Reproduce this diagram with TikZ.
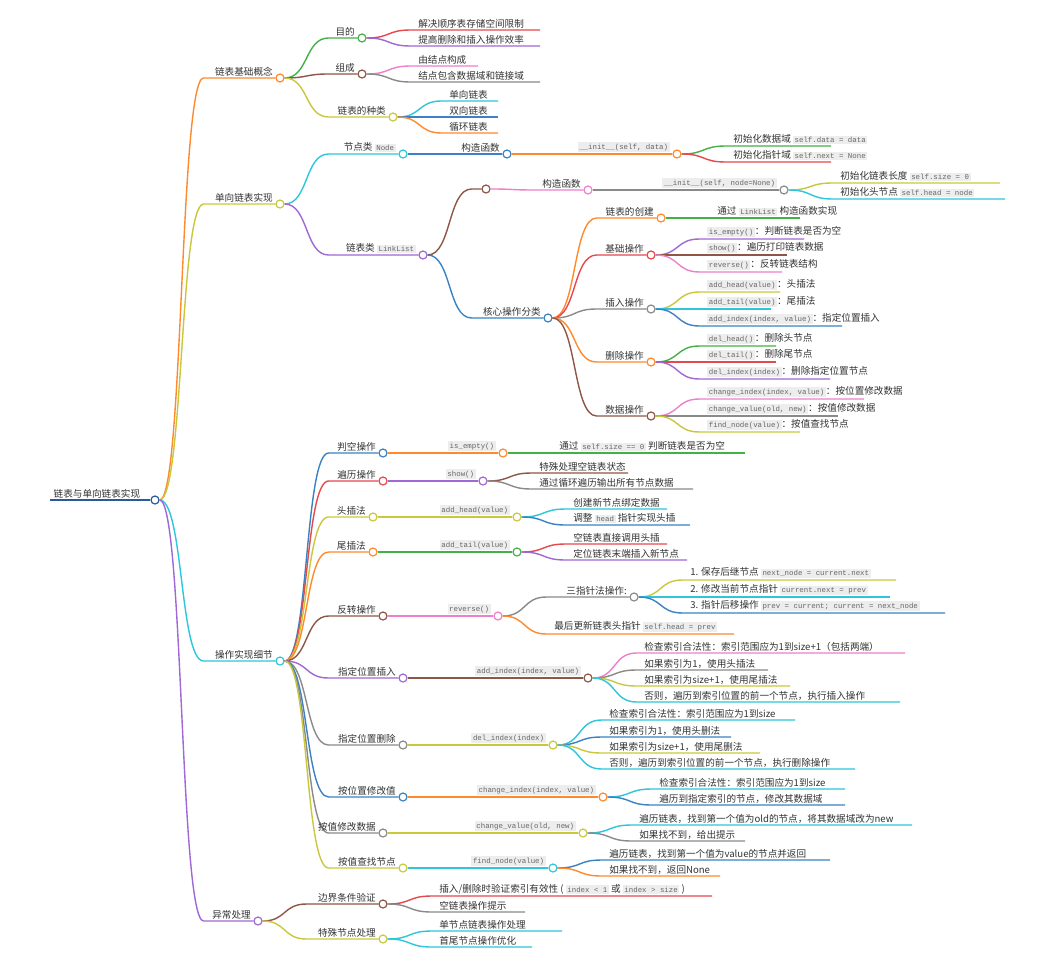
\documentclass[tikz,border=0pt]{standalone}
\usepackage{fontspec}
\setmainfont{Noto Sans CJK SC}
\newfontfamily\monof{Liberation Mono}
\usetikzlibrary{calc}
\definecolor{corange}{HTML}{FF8A2E}
\definecolor{cgreen}{HTML}{45AF48}
\definecolor{cred}{HTML}{E5484D}
\definecolor{cpurple}{HTML}{A068D4}
\definecolor{cbrown}{HTML}{8E5646}
\definecolor{cpink}{HTML}{EE7FCB}
\definecolor{cgray}{HTML}{8A8A8A}
\definecolor{colive}{HTML}{C9C83C}
\definecolor{ccyan}{HTML}{2EC6DA}
\definecolor{cblue}{HTML}{3A82C4}
\definecolor{croot}{HTML}{2A5A9A}
\definecolor{codebg}{HTML}{EDEDED}
\definecolor{ctext}{HTML}{333333}
\setlength{\fboxsep}{1.6pt}
\newcommand\cd[1]{\colorbox{codebg}{\monof\fontsize{7.4}{8}\selectfont\color{gray!80!black}#1}}
\tikzset{
  lbl/.style={font=\fontsize{9.6}{11}\selectfont, text=ctext, inner sep=1.5pt},
  dot/.style={circle, draw=#1, fill=white, line width=1.2pt, inner sep=0pt, minimum size=8pt},
  br/.style={draw=#1, line width=1.4pt}
}
% inner: parent, name, circle x, y, color, text
\newcommand\inn[6]{%
  \path let \p1=(#1.east) in coordinate (#2s) at (\x1+44pt,-#4pt);
  \node[dot=#5] (#2) at (#3,#4) {};
  \draw[br=#5] (#1.east) .. controls +(24,0) and +(-24,0) .. (#2s) -- (#2.west);
  \node[lbl, anchor=south east] (#2t) at ($(#2.west)+(-1,0)$) {#6};
}
% leaf: parent, name, y, x end, color, text
\newcommand\leaf[6]{%
  \path let \p1=(#1.east) in coordinate (#2s) at (\x1+44pt,-#3pt);
  \draw[br=#5] (#1.east) .. controls +(24,0) and +(-24,0) .. (#2s) -- (#4,#3);
  \node[lbl, anchor=south west] (#2t) at ($(#2s)+(6,0)$) {#6};
}
\begin{document}
\begin{tikzpicture}[x=1pt,y=-1pt]
\fill[white] (0,0) rectangle (1057,961);
\useasboundingbox (0,0) rectangle (1057,961);
% root
\node[dot=croot] (r) at (155,500) {};
\draw[br=croot] (50,500) coordinate (r0) -- (r.west);
\node[lbl, anchor=south west] (rt) at (52,500) {链表与单向链表实现};
% level 1
\inn{r}{a}{280}{78}{corange}{链表基础概念}
\inn{r}{b}{280}{204}{colive}{单向链表实现}
\inn{r}{c}{280}{661}{ccyan}{操作实现细节}
\inn{r}{d}{258}{921}{cpurple}{异常处理}
% a
\inn{a}{a1}{362}{38}{cgreen}{目的}
\leaf{a1}{a11}{30}{540}{cred}{解决顺序表存储空间限制}
\leaf{a1}{a12}{46}{540}{cpurple}{提高删除和插入操作效率}
\inn{a}{a2}{362}{74}{cbrown}{组成}
\leaf{a2}{a21}{66}{478}{cpink}{由结点构成}
\leaf{a2}{a22}{82}{540}{cgray}{结点包含数据域和链接域}
\inn{a}{a3}{393}{117}{colive}{链表的种类}
\leaf{a3}{a31}{101}{498}{ccyan}{单向链表}
\leaf{a3}{a32}{117}{498}{cblue}{双向链表}
\leaf{a3}{a33}{133}{498}{corange}{循环链表}
% b
\inn{b}{b1}{403}{154}{ccyan}{节点类 \cd{Node}}
\inn{b1}{b11}{507}{154}{cblue}{构造函数}
\inn{b11}{b111}{677}{154}{corange}{\cd{\_\_init\_\_(self, data)}}
\leaf{b111}{b1111}{146}{831}{cgreen}{初始化数据域 \cd{self.data = data}}
\leaf{b111}{b1112}{162}{831}{cred}{初始化指针域 \cd{self.next = None}}
\inn{b}{b2}{423}{255}{cpurple}{链表类 \cd{LinkList}}
\inn{b2}{b21}{486}{189}{cbrown}{}
\inn{b21}{b211}{588}{190}{cpink}{构造函数}
\inn{b211}{b2111}{784}{190}{cgray}{\cd{\_\_init\_\_(self, node=None)}}
\leaf{b2111}{b21111}{183}{1000}{colive}{初始化链表长度 \cd{self.size = 0}}
\leaf{b2111}{b21112}{199}{1005}{ccyan}{初始化头节点 \cd{self.head = node}}
\inn{b2}{b22}{548}{318}{cblue}{核心操作分类}
\inn{b22}{e1}{661}{218}{corange}{链表的创建}
\leaf{e1}{e11}{218}{800}{cgreen}{通过 \cd{LinkList} 构造函数实现}
\inn{b22}{e2}{651}{255}{cred}{基础操作}
\leaf{e2}{e21}{239}{804}{cpurple}{\cd{is\_empty()}：判断链表是否为空}
\leaf{e2}{e22}{255}{787}{cbrown}{\cd{show()}：遍历打印链表数据}
\leaf{e2}{e23}{272}{782}{cpink}{\cd{reverse()}：反转链表结构}
\inn{b22}{e3}{651}{309}{cgray}{插入操作}
\leaf{e3}{e31}{292}{780}{colive}{\cd{add\_head(value)}：头插法}
\leaf{e3}{e32}{309}{771}{ccyan}{\cd{add\_tail(value)}：尾插法}
\leaf{e3}{e33}{326}{842}{cblue}{\cd{add\_index(index, value)}：指定位置插入}
\inn{b22}{e4}{651}{362}{corange}{删除操作}
\leaf{e4}{e41}{346}{776}{cgreen}{\cd{del\_head()}：删除头节点}
\leaf{e4}{e42}{362}{776}{cred}{\cd{del\_tail()}：删除尾节点}
\leaf{e4}{e43}{379}{830}{cpurple}{\cd{del\_index(index)}：删除指定位置节点}
\inn{b22}{e5}{651}{416}{cbrown}{数据操作}
\leaf{e5}{e51}{399}{864}{cpink}{\cd{change\_index(index, value)}：按位置修改数据}
\leaf{e5}{e52}{416}{838}{cgray}{\cd{change\_value(old, new)}：按值修改数据}
\leaf{e5}{e53}{432}{800}{colive}{\cd{find\_node(value)}：按值查找节点}
% c
\inn{c}{c1}{383}{453}{cblue}{判空操作}
\inn{c1}{c11}{503}{453}{corange}{\cd{is\_empty()}}
\leaf{c11}{c111}{453}{745}{cgreen}{通过 \cd{self.size == 0} 判断链表是否为空}
\inn{c}{c2}{383}{481}{cred}{遍历操作}
\inn{c2}{c21}{483}{481}{cpurple}{\cd{show()}}
\leaf{c21}{c211}{473}{628}{cbrown}{特殊处理空链表状态}
\leaf{c21}{c212}{489}{693}{cgray}{通过循环遍历输出所有节点数据}
\inn{c}{c3}{373}{517}{colive}{头插法}
\inn{c3}{c31}{517}{517}{colive}{\cd{add\_head(value)}}
\leaf{c31}{c311}{509}{667}{ccyan}{创建新节点绑定数据}
\leaf{c31}{c312}{525}{690}{cblue}{调整 \cd{head} 指针实现头插}
\inn{c}{c4}{373}{552}{corange}{尾插法}
\inn{c4}{c41}{517}{552}{cgreen}{\cd{add\_tail(value)}}
\leaf{c41}{c411}{544}{667}{cred}{空链表直接调用头插}
\leaf{c41}{c412}{560}{687}{cpurple}{定位链表末端插入新节点}
\inn{c}{c5}{383}{616}{cbrown}{反转操作}
\inn{c5}{c51}{498}{616}{cpink}{\cd{reverse()}}
\inn{c51}{c511}{634}{597}{cgray}{三指针法操作:}
\leaf{c511}{c5111}{580}{896}{colive}{1. 保存后继节点 \cd{next\_node = current.next}}
\leaf{c511}{c5112}{597}{890}{ccyan}{2. 修改当前节点指针 \cd{current.next = prev}}
\leaf{c511}{c5113}{613}{945}{cblue}{3. 指针后移操作 \cd{prev = current; current = next\_node}}
\leaf{c51}{c512}{634}{734}{corange}{最后更新链表头指针 \cd{self.head = prev}}
\inn{c}{c6}{403}{678}{cpurple}{指定位置插入}
\inn{c6}{c61}{588}{678}{cbrown}{\cd{add\_index(index, value)}}
\leaf{c61}{c611}{653}{905}{cpink}{检查索引合法性：索引范围应为1到size+1（包括两端）}
\leaf{c61}{c612}{670}{768}{cgray}{如果索引为1，使用头插法}
\leaf{c61}{c613}{686}{790}{colive}{如果索引为size+1，使用尾插法}
\leaf{c61}{c614}{702}{900}{ccyan}{否则，遍历到索引位置的前一个节点，执行插入操作}
\inn{c}{c7}{403}{745}{cgray}{指定位置删除}
\inn{c7}{c71}{553}{745}{colive}{\cd{del\_index(index)}}
\leaf{c71}{c711}{720}{795}{ccyan}{检查索引合法性：索引范围应为1到size}
\leaf{c71}{c712}{737}{731}{cblue}{如果索引为1，使用头删法}
\leaf{c71}{c713}{753}{760}{colive}{如果索引为size+1，使用尾删法}
\leaf{c71}{c714}{769}{855}{ccyan}{否则，遍历到索引位置的前一个节点，执行删除操作}
\inn{c}{c8}{403}{797}{cblue}{按位置修改值}
\inn{c8}{c81}{603}{797}{corange}{\cd{change\_index(index, value)}}
\leaf{c81}{c811}{789}{845}{ccyan}{检查索引合法性：索引范围应为1到size}
\leaf{c81}{c812}{805}{845}{cblue}{遍历到指定索引的节点，修改其数据域}
\inn{c}{c9}{383}{833}{cgray}{按值修改数据}
\inn{c9}{c91}{583}{833}{colive}{\cd{change\_value(old, new)}}
\leaf{c91}{c911}{825}{912}{ccyan}{遍历链表，找到第一个值为old的节点，将其数据域改为new}
\leaf{c91}{c912}{841}{745}{cgray}{如果找不到，给出提示}
\inn{c}{c10}{403}{868}{colive}{按值查找节点}
\inn{c10}{c101}{553}{868}{ccyan}{\cd{find\_node(value)}}
\leaf{c101}{c1011}{860}{830}{cblue}{遍历链表，找到第一个值为value的节点并返回}
\leaf{c101}{c1012}{876}{720}{corange}{如果找不到，返回None}
% d
\inn{d}{d1}{383}{904}{cbrown}{边界条件验证}
\leaf{d1}{d11}{896}{712}{cred}{插入/删除时验证索引有效性 ( \cd{index < 1} 或 \cd{index > size} )}
\leaf{d1}{d12}{912}{525}{cgray}{空链表操作提示}
\inn{d}{d2}{383}{939}{colive}{特殊节点处理}
\leaf{d2}{d21}{931}{562}{ccyan}{单节点链表操作处理}
\leaf{d2}{d22}{947}{532}{ccyan}{首尾节点操作优化}
\end{tikzpicture}
\end{document}
